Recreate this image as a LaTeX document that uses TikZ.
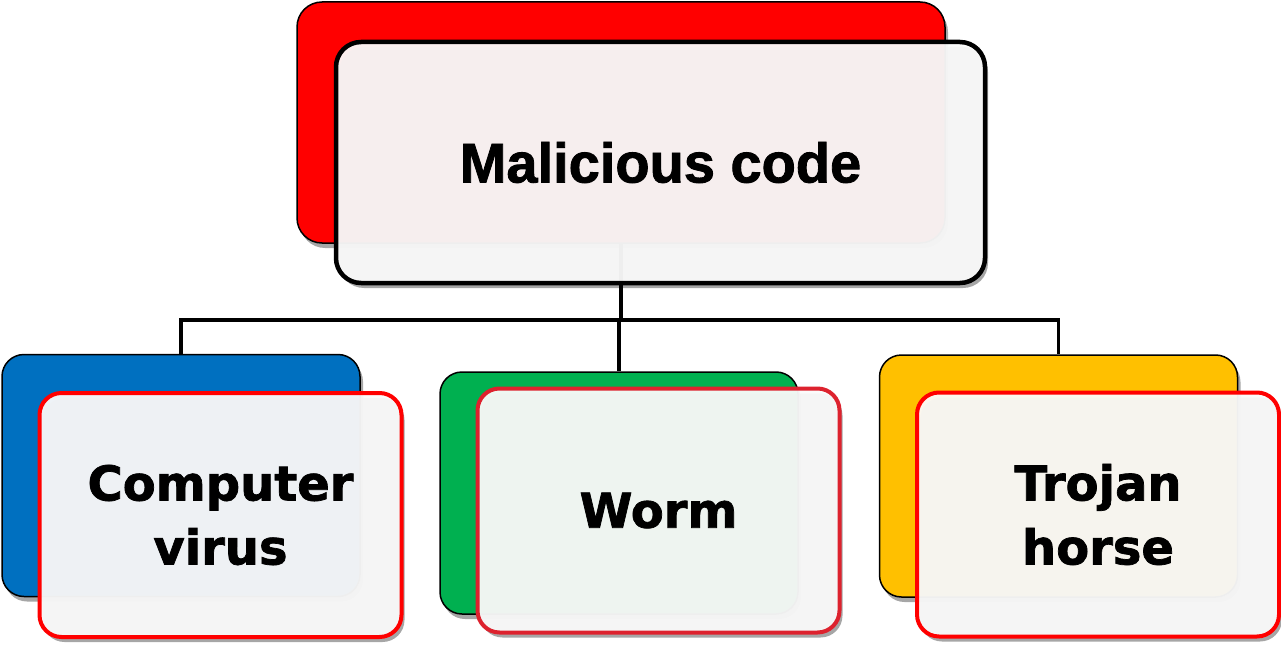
\documentclass[tikz,border=0pt]{standalone}
\usepackage{fontspec}
\usetikzlibrary{shadows}
\newfontfamily\headfont{Liberation Sans}[BoldFeatures={FakeBold=1.5}]
\newfontfamily\leaffont{DejaVu Sans}[BoldFeatures={FakeBold=1.5}]
\definecolor{mred}{RGB}{255,0,0}
\definecolor{mblue}{RGB}{0,112,192}
\definecolor{mgreen}{RGB}{0,176,80}
\definecolor{morange}{RGB}{255,192,0}
\definecolor{wred}{RGB}{221,34,46}
\definecolor{paper}{RGB}{251,251,251}
\tikzset{
    back/.style={draw=black, line width=1.5pt, rounded corners=22pt, inner sep=0pt,
        minimum width=358pt, minimum height=242pt,
        drop shadow={shadow xshift=3pt, shadow yshift=-5pt, fill=black, opacity=0.35}},
    front/.style={back, line width=4pt, fill=paper, fill opacity=0.95, text opacity=1,
        minimum width=362pt, minimum height=244pt, align=center,
        font=\leaffont\bfseries\fontsize{48}{64}\selectfont},
    bus/.style={line width=3.5pt, black},
}
\begin{document}
\begin{tikzpicture}[x=1pt, y=-1pt]
    \newcommand{\dx}{39.5}
    \useasboundingbox (0,0) rectangle (1281,647);

    % coloured cards behind
    \node[back, fill=mred, minimum width=648pt, minimum height=241pt, rounded corners=25pt] (malb) at (621,122.5) {};
    \node[back, fill=mblue] (virb) at (181,475.5) {};
    \node[back, fill=mgreen] (wormb) at (619,493) {};
    \node[back, fill=morange] (trojb) at (1058.5,476) {};

    \foreach \leaf in {virb,wormb,trojb}
        \draw[bus] (malb.south) -- ++(0,76) -| (\leaf.north);

    % pale cards in front
    \node[front, draw=black, line width=4.5pt, minimum width=649pt, minimum height=241pt, rounded corners=25pt,
        font=\headfont\bfseries\fontsize{56}{60}\selectfont] (malf) at ([shift={(\dx,40)}]malb.center) {Malicious code};
    \node[front, draw=mred] (virf) at ([shift={(\dx,39.5)}]virb.center) {Computer\\virus};
    \node[front, draw=wred] (wormf) at ([shift={(\dx,17.5)}]wormb.center) {Worm};
    \node[front, draw=mred] (trojf) at ([shift={(\dx,38.5)}]trojb.center) {Trojan\\horse};
\end{tikzpicture}
\end{document}
